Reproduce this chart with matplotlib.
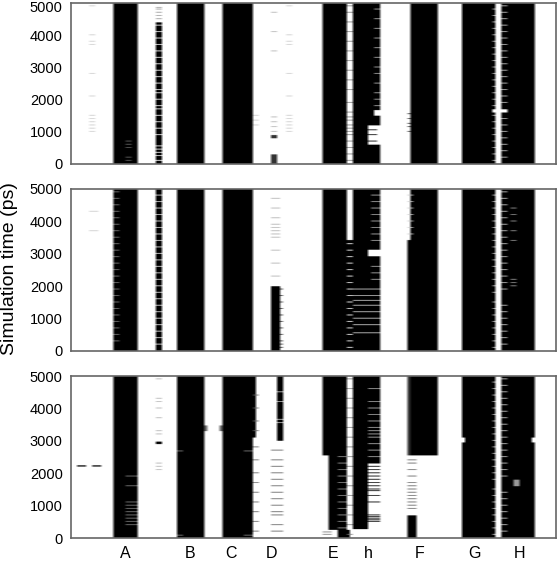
import numpy as np
import matplotlib
matplotlib.use('Agg')
import matplotlib.pyplot as plt
from matplotlib.transforms import ScaledTranslation

plt.rcParams['font.family'] = ['Liberation Sans', 'DejaVu Sans']

# residue axis 0..160, time axis 0..5000 ps, 25 ps per row
n_res = 160
t_max = 5000
dt = 25

helix_labels = ['A', 'B', 'C', 'D', 'E', 'h', 'F', 'G', 'H']
label_pos = [18, 39.3, 52.8, 66.3, 86.4, 98, 115, 133, 148]
y_ticks = [0, 1000, 2000, 3000, 4000, 5000]

# blocks: (res_start, res_end, t_start, t_end, darkness 0..1), painted in order
top_blocks = [
    (14, 22, 0, 5000, 1), (28, 30, 0, 4400, 1), (35, 44, 0, 5000, 1),
    (50, 60, 0, 5000, 1), (83, 91, 0, 5000, 1), (93, 102, 0, 5000, 1),
    (112, 121, 0, 5000, 1), (129, 139, 0, 5000, 1), (139, 140, 0, 5000, 1),
    (142, 144, 0, 5000, 1), (144, 153, 0, 5000, 1),
    (98, 102, 600, 1210, 0), (100, 102, 1520, 1680, 0), (139, 144, 1600, 1700, 0),
    (66, 68, 0, 300, 0.8), (66, 68, 800, 900, 0.8),
]
# lines: (res_start, res_end, darkness, [times])
top_lines = [
    (6, 8, 0.2, [1000, 1100, 1200, 1300, 1400, 1500, 2100, 2800, 3700, 3800, 4000, 4900]),
    (71, 73, 0.2, [1000, 1100, 1200, 1300, 1400, 1500, 2100, 2800, 3700, 3800, 4000, 4900]),
    (60, 62, 0.2, [1200, 1350, 1500]),
    (66, 68, 0.3, [1000, 1150, 1300, 1450, 3500, 4100, 4700]),
    (28, 30, 0, [100, 250, 350, 450, 550, 900, 1100, 1300, 1500, 1700, 1800, 2000, 2200,
                 2300, 2500, 2700, 2900, 3100, 3300, 3500, 3700, 3900, 4100, 4300]),
    (28, 30, 0.4, [4500, 4600, 4700, 4800, 4850]),
    (18, 20, 0.6, [100, 200, 500, 600, 700]),
    (91, 93, 0.5, [100, 300, 500, 700, 900, 1000, 1100, 1200, 1350, 1450, 1600, 1900,
                   2300, 2600, 2900, 3200, 3500, 3800, 4100, 4400, 4700, 4900]),
    (100, 102, 0.3, [1800, 2000, 2200, 2500, 2800, 3000, 3300, 3600, 3900, 4200, 4500, 4800]),
    (98, 101, 1, [700, 900, 1050]),
    (111, 112, 0.8, [1000, 1150, 1250, 1400, 1550]),
    (139, 140, 0.2, [100, 300, 500, 700, 900, 1100, 1300, 1500, 1800, 2000, 2200, 2400,
                     2600, 2800, 3000, 3200, 3400, 3600, 3800, 4000, 4200, 4400, 4600, 4800]),
    (142, 144, 0.2, [200, 400, 600, 800, 1000, 1200, 1400, 1900, 2100, 2300, 2500, 2700,
                     2900, 3100, 3300, 3500, 3700, 3900, 4100, 4300, 4500, 4700, 4900]),
]

mid_blocks = [
    (14, 22, 0, 5000, 1), (28, 30, 0, 5000, 1), (35, 44, 0, 5000, 1),
    (50, 60, 0, 5000, 1), (66, 69, 0, 2020, 1), (83, 91, 0, 5000, 1),
    (91, 93, 0, 3440, 1), (93, 102, 0, 5000, 1), (112, 121, 0, 5000, 1),
    (111, 112, 0, 3440, 1), (129, 139, 0, 5000, 1), (139, 140, 0, 5000, 1),
    (142, 144, 0, 5000, 1), (144, 153, 0, 5000, 1),
    (98, 102, 2930, 3130, 0),
]
mid_lines = [
    (6, 9, 0.2, [3700, 4300]),
    (14, 16, 0.5, [300, 500, 700, 900, 1100, 1300, 1500, 1700, 1900, 2100, 2300, 2500,
                   2700, 2900, 3100, 3300, 3500, 3700, 3900, 4100, 4300, 4500, 4700, 4900]),
    (28, 30, 0.1, [200, 400, 600, 800, 1000, 1200, 1400, 1600, 1800, 2000, 2200, 2400,
                   2600, 2800, 3000, 3200, 3400, 3600, 3800, 4000, 4200, 4400, 4600, 4800]),
    (66, 69, 0.3, [2300, 2700, 3100, 3500, 3600, 3700, 3800, 3900, 4100, 4400, 4700]),
    (69, 70, 0.8, [100, 200, 300, 500, 700, 900, 1100, 1300, 1500, 1700, 1900]),
    (91, 93, 0, [100, 300, 500, 700, 900, 1100, 1300, 1500, 1700, 1900, 2100, 2300,
                 2500, 2700, 2900, 3100, 3300]),
    (93, 102, 0.2, [560, 800, 1000, 1200, 1400, 1550, 1700, 1900]),
    (99, 102, 0.3, [2200, 2400, 2600, 3400, 3600, 3800, 4000, 4200, 4400, 4600, 4800]),
    (111, 113, 0.2, [3600, 3800, 4000, 4200, 4400, 4600, 4800]),
    (139, 140, 0.2, [100, 300, 500, 700, 900, 1100, 1300, 1500, 1800, 2000, 2200, 2400,
                     2600, 2800, 3000, 3200, 3400, 3600, 3800, 4000, 4200, 4400, 4600, 4800]),
    (142, 144, 0.2, [200, 400, 600, 800, 1000, 1200, 1400, 1900, 2100, 2300, 2500, 2700,
                     2900, 3100, 3300, 3500, 3700, 3900, 4100, 4300, 4500, 4700, 4900]),
    (145, 147, 0.4, [2000, 2100, 2200, 3400, 3700, 4000, 4200, 4400]),
]

bot_blocks = [
    (2, 5, 2200, 2250, 0.8), (7, 10, 2200, 2250, 0.8),
    (14, 22, 0, 5000, 1), (28, 30, 2900, 2975, 1), (35, 44, 0, 5000, 1),
    (44, 45, 3300, 3480, 0.6), (49, 50, 3300, 3480, 0.6),
    (50, 60, 0, 5000, 1), (60, 61, 3100, 5000, 1), (68, 70, 3020, 5000, 1),
    (83, 91, 2560, 5000, 1), (85, 91, 256, 2560, 1), (88, 92, 0, 256, 1),
    (93, 98, 277, 5000, 1), (98, 102, 2300, 5000, 1),
    (112, 121, 2560, 5000, 1), (111, 112, 2560, 5000, 0.8),
    (111, 114, 0, 700, 1), (129, 139, 0, 5000, 1), (139, 140, 0, 5000, 1),
    (142, 144, 0, 5000, 1), (144, 153, 0, 5000, 1),
    (129, 130, 2970, 3120, 0), (152, 153, 2970, 3120, 0), (146, 148, 1600, 1800, 0.4),
]
bot_lines = [
    (28, 30, 0.3, [2100, 2200, 2300, 3200, 3300, 3700, 4000, 4200, 4300, 4900]),
    (18, 22, 0.5, [400, 500, 600, 700, 800, 900, 1000, 1100, 1600, 1900]),
    (35, 37, 0.5, [75, 2675]), (57, 60, 0.5, [75, 2675]),
    (60, 62, 0.6, [200, 500, 800, 1100, 1400, 1700, 2000, 2400, 2800, 3300, 3600, 4000, 4400]),
    (68, 70, 0.2, [3550, 3650, 4200, 4500]),
    (66, 70, 0.6, [200, 400, 700, 800, 1000, 1200, 1400, 1600, 1800, 2000, 2200, 2400, 2700]),
    (88, 91, 0.4, [300, 500, 700, 900, 1100, 1300, 1500, 1700, 1900, 2100, 2300, 2500]),
    (91, 93, 0.5, [100, 400, 700, 1000, 1300, 1600, 1900, 2200, 2500, 2800, 3100, 3400,
                   3700, 4000, 4300, 4600, 4900]),
    (98, 102, 1, [520, 560, 600, 650, 700, 1100, 1300, 1450, 1500, 1600, 1700, 1800,
                  1900, 2000, 2100, 2200]),
    (98, 102, 0.3, [2500, 2700, 2900, 3100, 3200, 3300, 3400, 3600, 3800, 4000, 4200, 4600]),
    (111, 114, 0.6, [900, 1000, 1100, 1200, 1300, 1400, 1500, 1600, 1700, 1900, 2100,
                     2300, 2400]),
    (83, 86, 0.5, [100, 175]),
    (139, 140, 0.2, [100, 300, 500, 700, 900, 1100, 1300, 1500, 1800, 2000, 2200, 2400,
                     2600, 2800, 3000, 3200, 3400, 3600, 3800, 4000, 4200, 4400, 4600, 4800]),
    (142, 144, 0.2, [200, 400, 600, 800, 1000, 1200, 1400, 1900, 2100, 2300, 2500, 2700,
                     2900, 3100, 3300, 3500, 3700, 3900, 4100, 4300, 4500, 4700, 4900]),
]


def build(blocks, lines):
    grid = np.zeros((t_max // dt, n_res))
    for r0, r1, t0, t1, v in blocks:
        grid[int(t0 / dt):max(int(t1 / dt), int(t0 / dt) + 1), r0:r1] = v
    for r0, r1, v, times in lines:
        for t in times:
            grid[int(t / dt), r0:r1] = v
    return grid


panels = [(top_blocks, top_lines), (mid_blocks, mid_lines), (bot_blocks, bot_lines)]
W, H = 557, 562
rects = [(3, 164), (189, 351), (376, 538)]

fig = plt.figure(figsize=(W / 100, H / 100), dpi=100)
for k, ((blocks, lines), (y0, y1)) in enumerate(zip(panels, rects)):
    ax = fig.add_axes([71 / W, 1 - y1 / H, 485 / W, (y1 - y0) / H])
    ax.imshow(build(blocks, lines), cmap='gray_r', vmin=0, vmax=1, origin='lower',
              extent=[0, n_res, 0, t_max], aspect='auto', interpolation='bilinear')
    ax.set_xlim(0, n_res)
    ax.set_ylim(0, t_max)
    ax.set_yticks(y_ticks)
    ax.tick_params(axis='y', length=0, pad=6, labelsize=10.5)
    if k == 0:
        # top label sits a little lower so it stays inside the figure
        lab = ax.get_yticklabels()[-1]
        lab.set_transform(lab.get_transform() + ScaledTranslation(0, -3 / 100, fig.dpi_scale_trans))
    if k == 2:
        ax.set_xticks(label_pos)
        ax.set_xticklabels(helix_labels, fontsize=11.5)
        ax.tick_params(axis='x', length=0, pad=6)
    else:
        ax.set_xticks([])
    for s in ax.spines.values():
        s.set_color('#666666')
        s.set_linewidth(1.2)

fig.text(10 / W, 1 - 269 / H, 'Simulation time (ps)', rotation=90, ha='center',
         va='center', fontsize=14)

fig.savefig('out.png', dpi=100)
